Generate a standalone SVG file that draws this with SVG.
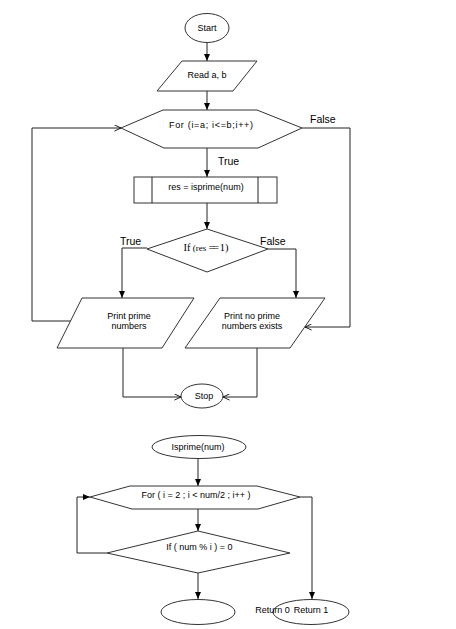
<svg xmlns="http://www.w3.org/2000/svg" width="456" height="629" viewBox="0 0 456 629">
<defs>
<style>
.s{fill:#fff;stroke:#333;stroke-width:1}
.c{fill:none;stroke:#222;stroke-width:1}
.t{font-family:"Liberation Sans",Arial,sans-serif;font-size:9px;fill:#000;text-anchor:middle}
.l{font-family:"Liberation Sans",Arial,sans-serif;font-size:10.5px;fill:#000}
.r{font-family:"Liberation Serif","Times New Roman",serif;fill:#000}
</style>
<marker id="fa" viewBox="0 0 8 8" refX="8" refY="4" markerWidth="7" markerHeight="7" orient="auto" markerUnits="userSpaceOnUse"><path d="M0,0.6 L8,4 L0,7.4 z" fill="#000"/></marker>
<marker id="oa" viewBox="0 0 8 8" refX="8" refY="4" markerWidth="7" markerHeight="7" orient="auto" markerUnits="userSpaceOnUse"><path d="M0.5,0.5 L8,4 L0.5,7.5" fill="none" stroke="#000" stroke-width="1"/></marker>
</defs>
<rect width="456" height="629" fill="#fff"/>

<g id="connectors">
<path class="c" d="M207,42.5 V61" marker-end="url(#fa)"/>
<path class="c" d="M207,91 V110" marker-end="url(#fa)"/>
<path class="c" d="M207,148 V177" marker-end="url(#fa)"/>
<path class="c" d="M207,203 V229" marker-end="url(#fa)"/>
<path class="c" d="M147,248 H122 V298" marker-end="url(#fa)"/>
<path class="c" d="M268,249 H296 V298" marker-end="url(#fa)"/>
<path class="c" d="M71,321 H32 V128 H121" marker-end="url(#oa)"/>
<path class="c" d="M302,128 H350 V327 H305" marker-end="url(#oa)"/>
<path class="c" d="M123,348 V397 H181" marker-end="url(#oa)"/>
<path class="c" d="M257,348 V397 H223" marker-end="url(#oa)"/>
<path class="c" d="M198,458.5 V486" marker-end="url(#fa)"/>
<path class="c" d="M198,509 V531" marker-end="url(#fa)"/>
<path class="c" d="M107,553 H77 V497 H90" marker-end="url(#fa)"/>
<path class="c" d="M300,497 H312 V599" marker-end="url(#fa)"/>
<path class="c" d="M198,573 V599" marker-end="url(#fa)"/>
<text class="l" x="310" y="123">False</text>
<text class="l" x="218" y="165">True</text>
<text class="l" x="120" y="245">True</text>
<text class="l" x="260" y="245">False</text>
</g>

<g id="start">
<ellipse class="s" cx="207" cy="28" rx="22" ry="14.5"/>
<text class="t" x="207" y="31">Start</text>
</g>

<g id="read">
<polygon class="s" points="182,61 257,61 233,91 157,91"/>
<text class="t" x="207" y="78">Read a, b</text>
</g>

<g id="for1">
<polygon class="s" points="163,110 257,110 302,128 258,148 164,148 121,128"/>
<text class="t" x="211" y="128" font-size="10" textLength="84" lengthAdjust="spacing">For (i=a; i&lt;=b;i++)</text>
</g>

<g id="process">
<rect class="s" x="134" y="177" width="143" height="26"/>
<line class="c" x1="152" y1="177" x2="152" y2="203"/>
<line class="c" x1="258" y1="177" x2="258" y2="203"/>
<text class="t" x="206" y="190">res = isprime(num)</text>
</g>

<g id="if1">
<polygon class="s" points="207,229 268,249 207,272 147,249"/>
<text class="r" x="206" y="251" text-anchor="middle"><tspan font-size="10.5">If</tspan><tspan font-size="9"> (res </tspan><tspan font-size="11" letter-spacing="-2">==</tspan><tspan font-size="10.5"> 1)</tspan></text>
</g>

<g id="printPrime">
<polygon class="s" points="82,298 194,298 162,348 57,348"/>
<text class="t" x="129" y="319">Print prime</text>
<text class="t" x="129" y="329">numbers</text>
</g>

<g id="printNoPrime">
<polygon class="s" points="220,298 325,298 290,348 185,348"/>
<text class="t" x="252" y="319">Print no prime</text>
<text class="t" x="252" y="329">numbers exists</text>
</g>

<g id="stop">
<ellipse class="s" cx="202" cy="396" rx="21" ry="12"/>
<text class="t" x="204" y="399">Stop</text>
</g>

<g id="isprime">
<ellipse class="s" cx="199" cy="447" rx="47" ry="11.5"/>
<text class="t" x="198" y="450">Isprime(num)</text>
</g>

<g id="for2">
<polygon class="s" points="130,486 257,486 300,497 258,509 132,509 90,497"/>
<text class="t" x="196" y="498">For ( i = 2 ; i &lt; num/2 ; i++ )</text>
</g>

<g id="if2">
<polygon class="s" points="198,531 290,553 198,573 107,553"/>
<text class="t" x="199.5" y="550">If ( num % i ) = 0</text>
</g>

<g id="return0">
<ellipse class="s" cx="198" cy="612" rx="37" ry="12.5"/>
</g>

<g id="return1">
<ellipse class="s" cx="311" cy="612" rx="38" ry="12.5"/>
<text class="t" x="272.5" y="613">Return 0</text>
<text class="t" x="311" y="613" font-size="8">Return 1</text>
</g>
</svg>
